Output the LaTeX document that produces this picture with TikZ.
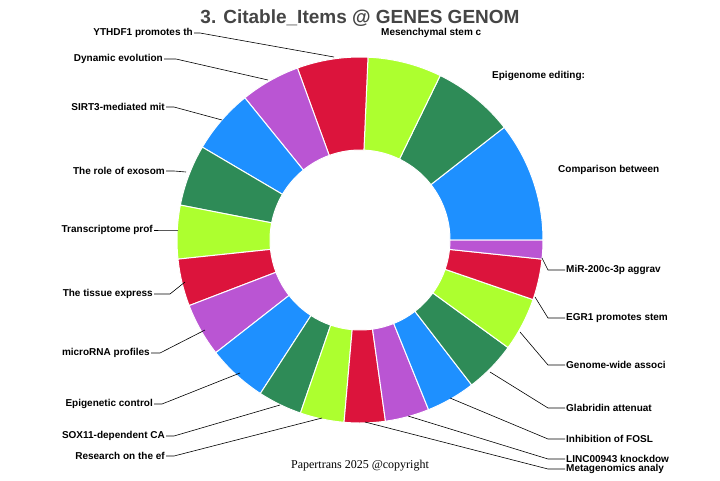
\documentclass[tikz,border=0pt]{standalone}
\usetikzlibrary{calc}
\usepackage{fontspec}
\setmainfont{Liberation Serif}
\setsansfont{Liberation Sans}
\begin{document}
\definecolor{cb}{HTML}{1E90FF}\definecolor{cg}{HTML}{2E8B57}\definecolor{cy}{HTML}{ADFF2F}
\definecolor{cr}{HTML}{DC143C}\definecolor{cp}{HTML}{BA55D3}
\begin{tikzpicture}[x=1pt,y=-1pt,
 lab/.style={font=\sffamily\bfseries\fontsize{10}{12}\selectfont,inner sep=1pt},
 ll/.style={anchor=west,lab}, lr/.style={anchor=east,lab},
 lead/.style={draw=black,line width=0.6pt}]
\useasboundingbox (0,0) rectangle (720,480);
\fill[white] (0,0) rectangle (720,480);
\def\R{183}\def\r{90}
\newcommand\seg[3]{\fill[#3,draw=white,line width=1pt] ($(360,240)+(-#1:\R)$) arc[start angle=-#1,end angle=-#2,radius=\R] -- ($(360,240)+(-#2:\r)$) arc[start angle=-#2,end angle=-#1,radius=\r] -- cycle;}
\begin{scope}
\seg{0}{38}{cb}\seg{38}{64}{cg}\seg{64}{87.5}{cy}\seg{87.5}{110}{cr}\seg{110}{129}{cp}
\seg{129}{149.5}{cb}\seg{149.5}{169}{cg}\seg{169}{186}{cy}\seg{186}{201}{cr}\seg{201}{218}{cp}
\seg{218}{237}{cb}\seg{237}{251}{cg}\seg{251}{265}{cy}\seg{265}{278}{cr}\seg{278}{292}{cp}
\seg{292}{307.6}{cb}\seg{307.6}{324}{cg}\seg{324}{341}{cy}\seg{341}{354}{cr}\seg{354}{360}{cp}
\end{scope}
\node[font=\sffamily\bfseries\fontsize{19}{22}\selectfont,text=black!73] (title) at (360,18) {3. Citable\_Items @ GENES GENOM};
\node[font=\fontsize{12}{14}\selectfont] (foot) at (360,466) {Papertrans 2025 @copyright};
% right labels
\node[ll] (mes) at (380,33) {Mesenchymal stem c};
\node[ll] (epi) at (491,76) {Epigenome editing:};
\node[ll] (cmp) at (557,170) {Comparison between};
\node[ll] (mir) at (565,270) {MiR-200c-3p aggrav};
\node[ll] (egr) at (565,318) {EGR1 promotes stem};
\node[ll] (gwa) at (565,365) {Genome-wide associ};
\node[ll] (gla) at (565,408) {Glabridin attenuat};
\node[ll] (inh) at (565,439) {Inhibition of FOSL};
\node[ll] (lin) at (565,459) {LINC00943 knockdow};
\node[ll] (met) at (565,469) {Metagenomics analy};
% left labels
\node[lr] (yth) at (194,33) {YTHDF1 promotes th};
\node[lr] (dyn) at (164,59) {Dynamic evolution};
\node[lr] (sir) at (166,107) {SIRT3-mediated mit};
\node[lr] (exo) at (166,171) {The role of exosom};
\node[lr] (tra) at (154,230) {Transcriptome prof};
\node[lr] (tis) at (154,294) {The tissue express};
\node[lr] (mic) at (151,353) {microRNA profiles};
\node[lr] (ecn) at (154,404) {Epigenetic control};
\node[lr] (sox) at (166,436) {SOX11-dependent CA};
\node[lr] (res) at (166,456) {Research on the ef};
% anchors on ring
\coordinate (pmir) at (542,258);\coordinate (kmir) at (548,270);
\coordinate (pegr) at (535,297);\coordinate (kegr) at (548,318);
\coordinate (pgwa) at (520,332);\coordinate (kgwa) at (548,365);
\coordinate (pgla) at (490,372);\coordinate (kgla) at (548,408);
\coordinate (pinh) at (450,398);\coordinate (kinh) at (548,439);
\coordinate (plin) at (408,416);\coordinate (klin) at (548,459);
\coordinate (pmet) at (365,422);\coordinate (kmet) at (548,469);
\draw[lead] (pmir)--(kmir)--(mir.west);
\draw[lead] (pegr)--(kegr)--(egr.west);
\draw[lead] (pgwa)--(kgwa)--(gwa.west);
\draw[lead] (pgla)--(kgla)--(gla.west);
\draw[lead] (pinh)--(kinh)--(inh.west);
\draw[lead] (plin)--(klin)--(lin.west);
\draw[lead] (pmet)--(kmet)--(met.west);
\coordinate (pyth) at (334,57);\coordinate (kyth) at (200,33);
\coordinate (pdyn) at (268,80);\coordinate (kdyn) at (176,59);
\coordinate (psir) at (222,120);\coordinate (ksir) at (174,107);
\coordinate (pexo) at (186,172);\coordinate (kexo) at (174,171);
\coordinate (ptra) at (178,230);\coordinate (ktra) at (162,230);
\coordinate (ptis) at (185,282);\coordinate (ktis) at (170,294);
\coordinate (pmic) at (205,330);\coordinate (kmic) at (160,353);
\coordinate (pecn) at (240,373);\coordinate (kecn) at (162,404);
\coordinate (psox) at (280,405);\coordinate (ksox) at (174,436);
\coordinate (pres) at (322,418);\coordinate (kres) at (174,456);
\draw[lead] (pyth)--(kyth)--(yth.east);
\draw[lead] (pdyn)--(kdyn)--(dyn.east);
\draw[lead] (psir)--(ksir)--(sir.east);
\draw[lead] (pexo)--(kexo)--(exo.east);
\draw[lead] (ptra)--(ktra)--(tra.east);
\draw[lead] (ptis)--(ktis)--(tis.east);
\draw[lead] (pmic)--(kmic)--(mic.east);
\draw[lead] (pecn)--(kecn)--(ecn.east);
\draw[lead] (psox)--(ksox)--(sox.east);
\draw[lead] (pres)--(kres)--(res.east);
\end{tikzpicture}
\end{document}
